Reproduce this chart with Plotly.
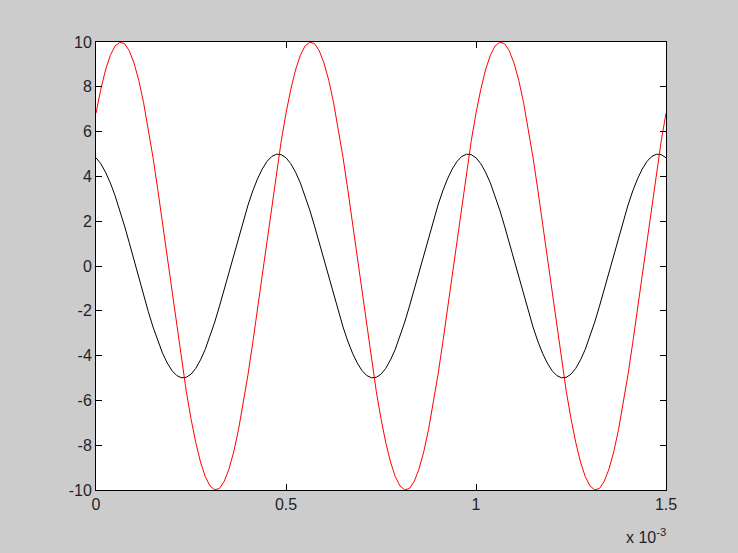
import plotly.graph_objects as go

# time axis in units of 1e-3 s (step 0.0125)
t = [i * 0.0125 for i in range(121)]

# black trace, amplitude ~5, one period (40 samples)
black_cycle = [4.83, 4.57, 4.19, 3.72, 3.15, 2.50, 1.79, 1.04, 0.26, -0.52,
               -1.29, -2.03, -2.72, -3.35, -3.89, -4.33, -4.67, -4.89, -4.99, -4.97,
               -4.83, -4.57, -4.19, -3.72, -3.15, -2.50, -1.79, -1.04, -0.26, 0.52,
               1.29, 2.03, 2.72, 3.35, 3.89, 4.33, 4.67, 4.89, 4.99, 4.97]
black = black_cycle * 3 + [4.83]

# red trace, amplitude ~10, one period (40 samples)
red_cycle = [6.82, 7.88, 8.75, 9.40, 9.82, 9.99, 9.93, 9.61, 9.06, 8.29,
             7.31, 6.16, 4.85, 3.42, 1.91, 0.35, -1.22, -2.76, -4.23, -5.59,
             -6.82, -7.88, -8.75, -9.40, -9.82, -9.99, -9.93, -9.61, -9.06, -8.29,
             -7.31, -6.16, -4.85, -3.42, -1.91, -0.35, 1.22, 2.76, 4.23, 5.59]
red = red_cycle * 3 + [6.82]

x_ticks = [0, 0.5, 1, 1.5]
x_labels = ["0", "0.5", "1", "1.5"]
y_ticks = [-10, -8, -6, -4, -2, 0, 2, 4, 6, 8, 10]
y_labels = ["-10", "-8", "-6", "-4", "-2", "0", "2", "4", "6", "8", "10"]

fig = go.Figure()
fig.add_trace(go.Scatter(x=t, y=black, mode="lines",
                         line=dict(color="black", width=1)))
fig.add_trace(go.Scatter(x=t, y=red, mode="lines",
                         line=dict(color="red", width=1)))

font = dict(family="Liberation Sans, Arial", size=16, color="#1f1f2a")
axis_style = dict(showline=True, linecolor="black", linewidth=1, mirror="ticks",
                  ticks="inside", ticklen=6, tickcolor="black",
                  showgrid=False, zeroline=False, tickfont=font)

fig.update_xaxes(range=[0, 1.5], tickvals=x_ticks, ticktext=x_labels, **axis_style)
fig.update_yaxes(range=[-10, 10], tickvals=y_ticks, ticktext=y_labels, **axis_style)

fig.add_annotation(text="x 10<sup>-3</sup>", xref="paper", yref="paper",
                   x=1.003, y=-0.103, xanchor="right", yanchor="middle", showarrow=False,
                   font=font)

fig.update_layout(width=738, height=553, showlegend=False,
                  paper_bgcolor="#cccccc", plot_bgcolor="white",
                  margin=dict(l=96, r=72, t=42, b=63))

fig.write_html("out.html", config={"displayModeBar": False},
               post_script="document.body.style.margin='0';"
                           "document.body.style.background='#cccccc';")
